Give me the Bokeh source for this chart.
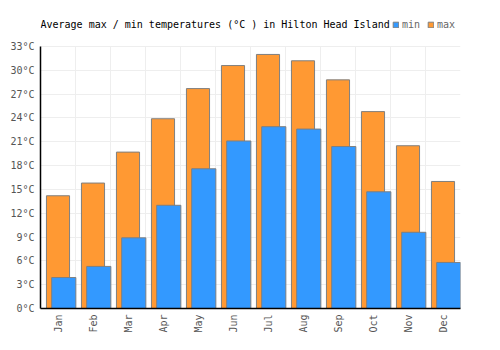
import numpy as np
from bokeh.plotting import figure
from bokeh.models import FixedTicker, Label, Legend, LegendItem, ColumnDataSource
from bokeh.embed import file_html
from bokeh.resources import INLINE

months = ["Jan", "Feb", "Mar", "Apr", "May", "Jun", "Jul", "Aug", "Sep", "Oct", "Nov", "Dec"]
temp_max = [14.2, 15.8, 19.7, 23.9, 27.7, 30.6, 32.0, 31.2, 28.8, 24.8, 20.5, 16.0]
temp_min = [3.9, 5.3, 8.9, 13.0, 17.6, 21.1, 22.9, 22.6, 20.4, 14.7, 9.6, 5.8]
y_ticks = [0, 3, 6, 9, 12, 15, 18, 21, 24, 27, 30, 33]
title_text = "Average max / min temperatures (°C ) in Hilton Head Island"

FONT = "DejaVu Sans Mono"
W, H = 500, 350
TOP, BOTTOM, LEFT, RIGHT = 10, 42, 40, 40
AXIS_TOP_PX = 46  # canvas y of the highest tick
frame_h = H - TOP - BOTTOM
y_max = y_ticks[-1]
y_end = y_max * frame_h / (H - BOTTOM - AXIS_TOP_PX)

idx = np.arange(len(months))
src = ColumnDataSource(dict(
    xmax=idx + 0.5, xmin=idx + 0.665, tmax=temp_max, tmin=temp_min, m=months))

p = figure(width=W, height=H, output_backend="svg", toolbar_location=None,
           x_range=(0, 12), y_range=(0, y_end),
           min_border_left=LEFT, min_border_right=RIGHT,
           min_border_top=TOP, min_border_bottom=BOTTOM)
p.title.visible = False
p.outline_line_color = None
p.background_fill_color = "white"

r_max = p.vbar(x="xmax", top="tmax", bottom=0, width=0.66, source=src,
               fill_color="#ff9933", line_color="#7f7f7f", line_width=1)
r_min = p.vbar(x="xmin", top="tmin", bottom=0, width=0.69, source=src,
               fill_color="#3399ff", line_color="#7f7f7f", line_width=1)

# axes
p.xaxis.ticker = FixedTicker(ticks=list(idx + 0.5))
p.xaxis.major_label_overrides = {float(i + 0.5): m for i, m in enumerate(months)}
p.xaxis.major_label_orientation = np.pi / 2
p.yaxis.ticker = FixedTicker(ticks=y_ticks)
p.yaxis.major_label_overrides = {t: f"{t}°C" for t in y_ticks}
p.yaxis.bounds = (0, y_max)
for ax in (p.xaxis, p.yaxis):
    ax.major_tick_line_color = None
    ax.minor_tick_line_color = None
    ax.major_tick_out = 0
    ax.major_tick_in = 0
    ax.axis_line_color = "black"
    ax.axis_line_width = 1.5
    ax.major_label_text_font = FONT
    ax.major_label_text_font_size = "10px"
    ax.major_label_text_color = "#555555"
    ax.major_label_standoff = 6

p.xgrid.ticker = FixedTicker(ticks=list(range(13)))
p.xgrid.cross_bounds = (0, y_max)
p.ygrid.ticker = FixedTicker(ticks=y_ticks)
p.xgrid.grid_line_color = "#eeeeee"
p.ygrid.grid_line_color = "#eeeeee"

title = Label(x=0, y=frame_h - 14, x_units="screen", y_units="screen", text=title_text,
              text_font=FONT, text_font_size="10px", text_color="black",
              text_baseline="middle", text_align="left")
p.add_layout(title)

legend = Legend(items=[LegendItem(label="min", renderers=[r_min]),
                       LegendItem(label="max", renderers=[r_max])],
                location=(352, frame_h - 20), orientation="horizontal",
                padding=0, margin=0, spacing=5, label_standoff=3,
                glyph_width=7, glyph_height=7, label_height=7,
                border_line_color=None, background_fill_alpha=0,
                label_text_font=FONT, label_text_font_size="10px",
                label_text_color="#666666")
p.add_layout(legend)

open("out.html", "w").write(file_html(p, INLINE))
